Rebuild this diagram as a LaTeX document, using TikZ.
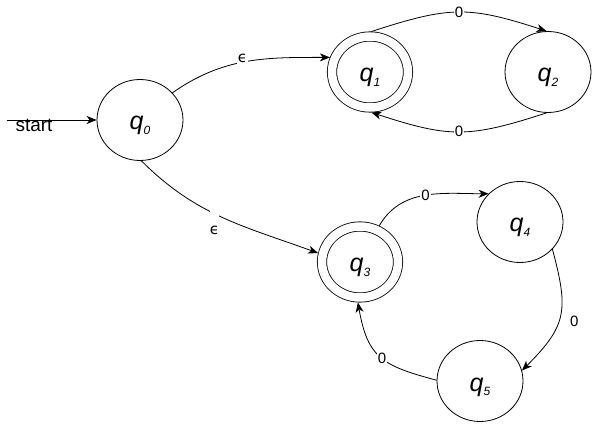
\documentclass[tikz,border=0pt]{standalone}
\usepackage{fontspec}
\setmainfont{Liberation Sans}
\newfontfamily\dejavu{DejaVu Sans}
\usetikzlibrary{shapes.geometric,arrows.meta}
\newcommand\qlab[1]{\fontsize{25}{25}\selectfont\itshape q\raisebox{-5pt}{\fontsize{12}{12}\selectfont #1}}
\begin{document}
\begin{tikzpicture}[x=1pt,y=1pt,
  state/.style={draw, ellipse, line width=0.8pt, minimum width=86pt, minimum height=81pt, inner sep=0pt, text height=20pt, text depth=0pt},
  accept/.style={draw, ellipse, line width=0.8pt, double, double distance=8.5pt, minimum width=76pt, minimum height=71pt, inner sep=0pt, outer sep=5pt, text height=20pt, text depth=0pt},
  edge/.style={line width=0.8pt, -{Stealth[length=10pt,width=8pt,inset=3pt]}},
  lbl/.style={fill=white, inner sep=1pt, font=\fontsize{15}{15}\selectfont},
]
\fill[white] (0,0) rectangle (594,423);
\useasboundingbox (0,0) rectangle (594,423);

\node[state] (q0) at (140,303) {\qlab{0}};
\node[accept] (q1) at (370,351) {\qlab{1}};
\node[state] (q2) at (548,351) {\qlab{2}};
\node[accept] (q3) at (360,161) {\qlab{3}};
\node[state] (q4) at (520,201) {\qlab{4}};
\node[state] (q5) at (480,42) {\qlab{5}};

\coordinate (s) at (7,303);
\draw[edge] (s) -- (q0);
\node[anchor=base] (st) at (34,291.5) {\fontsize{19}{19}\selectfont start};

\draw[edge] (q0.40) to[out=35,in=180] node[lbl,pos=0.47,yshift=4pt] (e1) {\dejavu ϵ} (q1.160);
\draw[edge] (q0.-88) to[out=-45,in=160] node[lbl,pos=0.45,anchor=north,yshift=3pt,inner xsep=0pt,text height=22pt,text depth=1pt] (e2) {\dejavu ϵ} (q3.168);

\draw[edge] (q1.88) to[out=18,in=162,looseness=1.2] node[lbl] (e3) {0} (q2.92);
\draw[edge] (q2.-92) to[out=-162,in=-18,looseness=1.2] node[lbl] (e4) {0} (q1.-88);

\draw[edge] (q3.62) to[out=60,in=180] node[lbl,pos=0.5] (e5) {0} (q4.138);
\draw[edge] (q4.-40) to[out=-75,in=45,looseness=1.3] node[lbl,pos=0.55,anchor=west,xshift=10pt] (e6) {0} (q5.14);
\draw[edge] (q5.179) to[out=165,in=-80,looseness=1.3] node[lbl,pos=0.48] (e7) {0} (q3.-93);
\end{tikzpicture}
\end{document}
